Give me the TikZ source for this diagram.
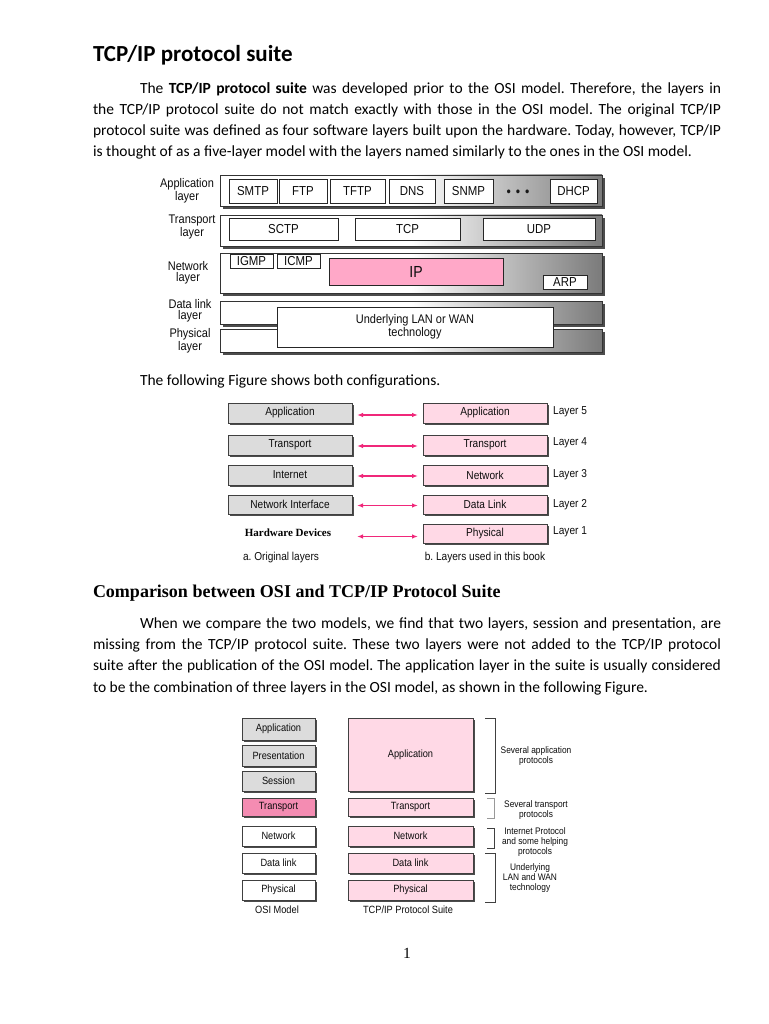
\documentclass[tikz,border=0pt]{standalone}
\usepackage{fontspec}
\setmainfont{Carlito}
\newfontfamily\tms{Liberation Serif}
\newfontfamily\dg[FakeStretch=0.88]{Liberation Sans}
\usetikzlibrary{shadows,arrows.meta}
\frenchspacing
\definecolor{pinkL}{HTML}{FFD9E6}
\definecolor{pinkIP}{HTML}{FFA8C8}
\definecolor{pinkOSI}{HTML}{F48CB2}
\definecolor{arrowc}{HTML}{F0287A}
\definecolor{grayF}{HTML}{DCDCDC}
\pgfdeclarehorizontalshading{bandshade}{100bp}{color(0bp)=(white); color(50bp)=(white); color(75bp)=(black!52); color(100bp)=(black!52)}
\newcommand\bx[7]{\node[#6, minimum width={#4-#2}, minimum height={#5-#3}] (#1) at ({(#2+#4)/2},{(#3+#5)/2}) {#7};}
\tikzset{
  txt/.style={anchor=base west, inner sep=0pt, outer sep=0pt},
  band/.style={draw=black!80, line width=0.6pt, shading=bandshade, inner sep=0pt, outer sep=0pt,
    drop shadow={shadow xshift=3pt, shadow yshift=-3pt, fill=black!70, opacity=1}},
  pbox/.style={draw=black!85, fill=white, line width=0.7pt, inner sep=0pt, outer sep=0pt,
    text=black!95, font=\dg\fontsize{13}{13}\selectfont,
    drop shadow={shadow xshift=1.2pt, shadow yshift=-1.2pt, fill=black!45, opacity=1}},
  lbl1/.style={align=center, inner sep=0pt, text=black!95, font=\dg\fontsize{12.5}{10.5}\selectfont},
  gbox/.style={draw=black!75, fill=grayF, line width=0.6pt, inner sep=0pt, outer sep=0pt,
    text=black!95, font=\dg\fontsize{11.5}{11.5}\selectfont,
    drop shadow={shadow xshift=1.6pt, shadow yshift=-1.6pt, fill=black!70, opacity=1}},
  kbox/.style={gbox, fill=pinkL},
  lbl2/.style={inner sep=0pt, text=black!95, font=\dg\fontsize{11.5}{11.5}\selectfont},
  parr/.style={{Latex[length=6pt,width=4.5pt]}-{Latex[length=6pt,width=4.5pt]}, draw=arrowc, line width=1.2pt},
  obox/.style={draw=black!75, fill=white, line width=0.6pt, inner sep=0pt, outer sep=0pt,
    text=black!95, font=\dg\fontsize{10.5}{10.5}\selectfont,
    drop shadow={shadow xshift=1.8pt, shadow yshift=-1.8pt, fill=black!70, opacity=1}},
  lbl3/.style={align=center, inner sep=0pt, text=black!95, font=\dg\fontsize{9.5}{10}\selectfont},
  brk/.style={draw=black!75, line width=0.8pt},
  brkl/.style={draw=black!40, line width=0.8pt}
}
\begin{document}
\begin{tikzpicture}[x=1pt,y=-1pt]
\useasboundingbox (0,0) rectangle (768,1024);
\fill[white] (0,0) rectangle (768,1024);

% ---------- text ----------
\node[txt, font=\fontsize{23}{23}\selectfont\bfseries] (h1) at (93,62) {TCP/IP protocol suite};
\begin{scope}[every node/.style={txt, font=\fontsize{15.5}{15.5}\selectfont}]
\node (p1a) at (140,94) {\hbox to 581pt{The \textbf{TCP/IP protocol suite} was developed prior to the OSI model. Therefore, the layers in}};
\node (p1b) at (93,115) {\hbox to 628pt{the TCP/IP protocol suite do not match exactly with those in the OSI model. The original TCP/IP}};
\node (p1c) at (93,136) {\hbox to 628pt{protocol suite was defined as four software layers built upon the hardware. Today, however, TCP/IP}};
\node (p1d) at (93,157) {is thought of as a five-layer model with the layers named similarly to the ones in the OSI model.};
\node (p2) at (140,385) {The following Figure shows both configurations.};
\node (p3a) at (140,628) {\hbox to 581pt{When we compare the two models, we find that two layers, session and presentation, are}};
\node (p3b) at (93,649) {\hbox to 628pt{missing from the TCP/IP protocol suite. These two layers were not added to the TCP/IP protocol}};
\node (p3c) at (93,670) {\hbox to 628pt{suite after the publication of the OSI model. The application layer in the suite is usually considered}};
\node (p3d) at (93,692) {to be the combination of three layers in the OSI model, as shown in the following Figure.};
\end{scope}
\node[txt, font=\tms\fontsize{18}{18}\selectfont\bfseries] (h2) at (93,597) {Comparison between OSI and TCP/IP Protocol Suite};
\node[txt, font=\tms\fontsize{15.5}{15.5}\selectfont] (pg) at (403,958) {1};

% ---------- figure 1 ----------
\bx{bapp}{220}{175}{602}{206}{band}{}
\bx{btra}{220}{215}{602}{246}{band}{}
\bx{bnet}{220}{253}{602}{293}{band}{}
\bx{bdl}{220}{301}{602}{324}{band}{}
\bx{bphy}{220}{329}{602}{352}{band}{}

\node[lbl1] (lapp) at (187,191) {Application\\layer};
\node[lbl1] (ltra) at (192,227) {Transport\\layer};
\node[lbl1] (lnet) at (188,273) {Network\\layer};
\node[lbl1] (ldl) at (190,311) {Data link\\layer};
\node[lbl1] (lphy) at (190,341) {Physical\\layer};

\bx{smtp}{229}{179}{277}{203}{pbox}{SMTP}
\bx{ftp}{279}{179}{327}{203}{pbox}{FTP}
\bx{tftp}{330}{179}{385}{203}{pbox}{TFTP}
\bx{dns}{389}{179}{435}{203}{pbox}{DNS}
\bx{snmp}{444}{179}{493}{203}{pbox}{SNMP}
\node[inner sep=0pt, text=black!90, font=\dg\fontsize{14}{14}\selectfont] (dots) at (518,193) {•\hspace{5pt}•\hspace{5pt}•};
\bx{dhcp}{550}{179}{597}{203}{pbox}{DHCP}
\bx{sctp}{229}{218}{338}{240}{pbox}{SCTP}
\bx{tcp}{355}{218}{460}{240}{pbox}{TCP}
\bx{udp}{483}{218}{595}{240}{pbox}{UDP}
\bx{igmp}{230}{254}{273}{268}{pbox}{IGMP}
\bx{icmp}{277}{254}{320}{268}{pbox}{ICMP}
\bx{ip}{329}{258}{503}{285}{pbox, fill=pinkIP, font=\dg\fontsize{16}{16}\selectfont}{IP}
\bx{arp}{543}{275}{587}{289}{pbox}{ARP}
\bx{ulw}{277}{307}{553}{347}{pbox, align=center, font=\dg\fontsize{12.5}{10.5}\selectfont}{Underlying LAN or WAN\\technology}

% ---------- figure 2 ----------
\bx{la5}{228}{403}{352}{423}{gbox}{Application}
\bx{la4}{228}{435}{352}{455}{gbox}{Transport}
\bx{la3}{228}{465}{352}{485}{gbox}{Internet}
\bx{la2}{228}{495}{352}{514}{gbox}{Network Interface}
\node[inner sep=0pt, font=\tms\fontsize{11}{11}\selectfont\bfseries] (hw) at (288,533) {Hardware Devices};

\bx{ra5}{423}{403}{547}{423}{kbox}{Application}
\bx{ra4}{423}{435}{547}{455}{kbox}{Transport}
\bx{ra3}{423}{465}{547}{485}{kbox}{Network}
\bx{ra2}{423}{495}{547}{514}{kbox}{Data Link}
\bx{ra1}{423}{524}{547}{543}{kbox}{Physical}

\draw[parr] ([xshift=5pt,yshift=-2pt]la5.east) -- ([xshift=-5pt,yshift=-2pt]ra5.west);
\draw[parr] ([xshift=5pt,yshift=-1pt]la4.east) -- ([xshift=-5pt,yshift=-1pt]ra4.west);
\draw[parr] ([xshift=5pt,yshift=-1pt]la3.east) -- ([xshift=-5pt,yshift=-1pt]ra3.west);
\draw[parr] ([xshift=5pt,yshift=-1pt]la2.east) -- ([xshift=-5pt,yshift=-1pt]ra2.west);
\draw[parr] ([xshift=5pt,yshift=-3pt]la2.east |- ra1.west) -- ([xshift=-5pt,yshift=-3pt]ra1.west);

\node[lbl2, anchor=west] (l5) at (553,412) {Layer 5};
\node[lbl2, anchor=west] (l4) at (553,443) {Layer 4};
\node[lbl2, anchor=west] (l3) at (553,475) {Layer 3};
\node[lbl2, anchor=west] (l2) at (553,505) {Layer 2};
\node[lbl2, anchor=west] (l1) at (553,532) {Layer 1};
\node[lbl2] (capa) at (281,558) {a. Original layers};
\node[lbl2] (capb) at (485,558) {b. Layers used in this book};

% ---------- figure 3 ----------
\bx{o7}{242}{718}{315}{740}{obox, fill=grayF}{Application}
\bx{o6}{242}{745}{315}{766}{obox, fill=grayF}{Presentation}
\bx{o5}{242}{771}{315}{791}{obox, fill=grayF}{Session}
\bx{o4}{242}{798}{315}{816}{obox, fill=pinkOSI}{Transport}
\bx{o3}{242}{826}{315}{846}{obox}{Network}
\bx{o2}{242}{853}{315}{873}{obox}{Data link}
\bx{o1}{242}{880}{315}{900}{obox}{Physical}

\bx{t5}{348}{718}{473}{791}{obox, fill=pinkL}{Application}
\bx{t4}{348}{798}{473}{816}{obox, fill=pinkL}{Transport}
\bx{t3}{348}{826}{473}{846}{obox, fill=pinkL}{Network}
\bx{t2}{348}{853}{473}{873}{obox, fill=pinkL}{Data link}
\bx{t1}{348}{880}{473}{900}{obox, fill=pinkL}{Physical}

\node[lbl3, font=\dg\fontsize{10.5}{10.5}\selectfont] (osil) at (277,910) {OSI Model};
\node[lbl3, font=\dg\fontsize{10.5}{10.5}\selectfont] (tcpl) at (408,910) {TCP/IP Protocol Suite};

\draw[brk] (485,718) -- (495,718) -- (495,793) -- (485,793);
\draw[brkl] (487,798) -- (494,798) -- (494,818) -- (487,818);
\draw[brk] (487,828) -- (494,828) -- (494,848) -- (487,848);
\draw[brk] (485,853) -- (495,853) -- (495,902) -- (485,902);

\node[lbl3] (bl1) at (536,756) {Several application\\protocols};
\node[lbl3] (bl2) at (536,810) {Several transport\\protocols};
\node[lbl3] (bl3) at (535,842) {Internet Protocol\\and some helping\\protocols};
\node[lbl3] (bl4) at (530,878) {Underlying\\LAN and WAN\\technology};
\end{tikzpicture}
\end{document}
